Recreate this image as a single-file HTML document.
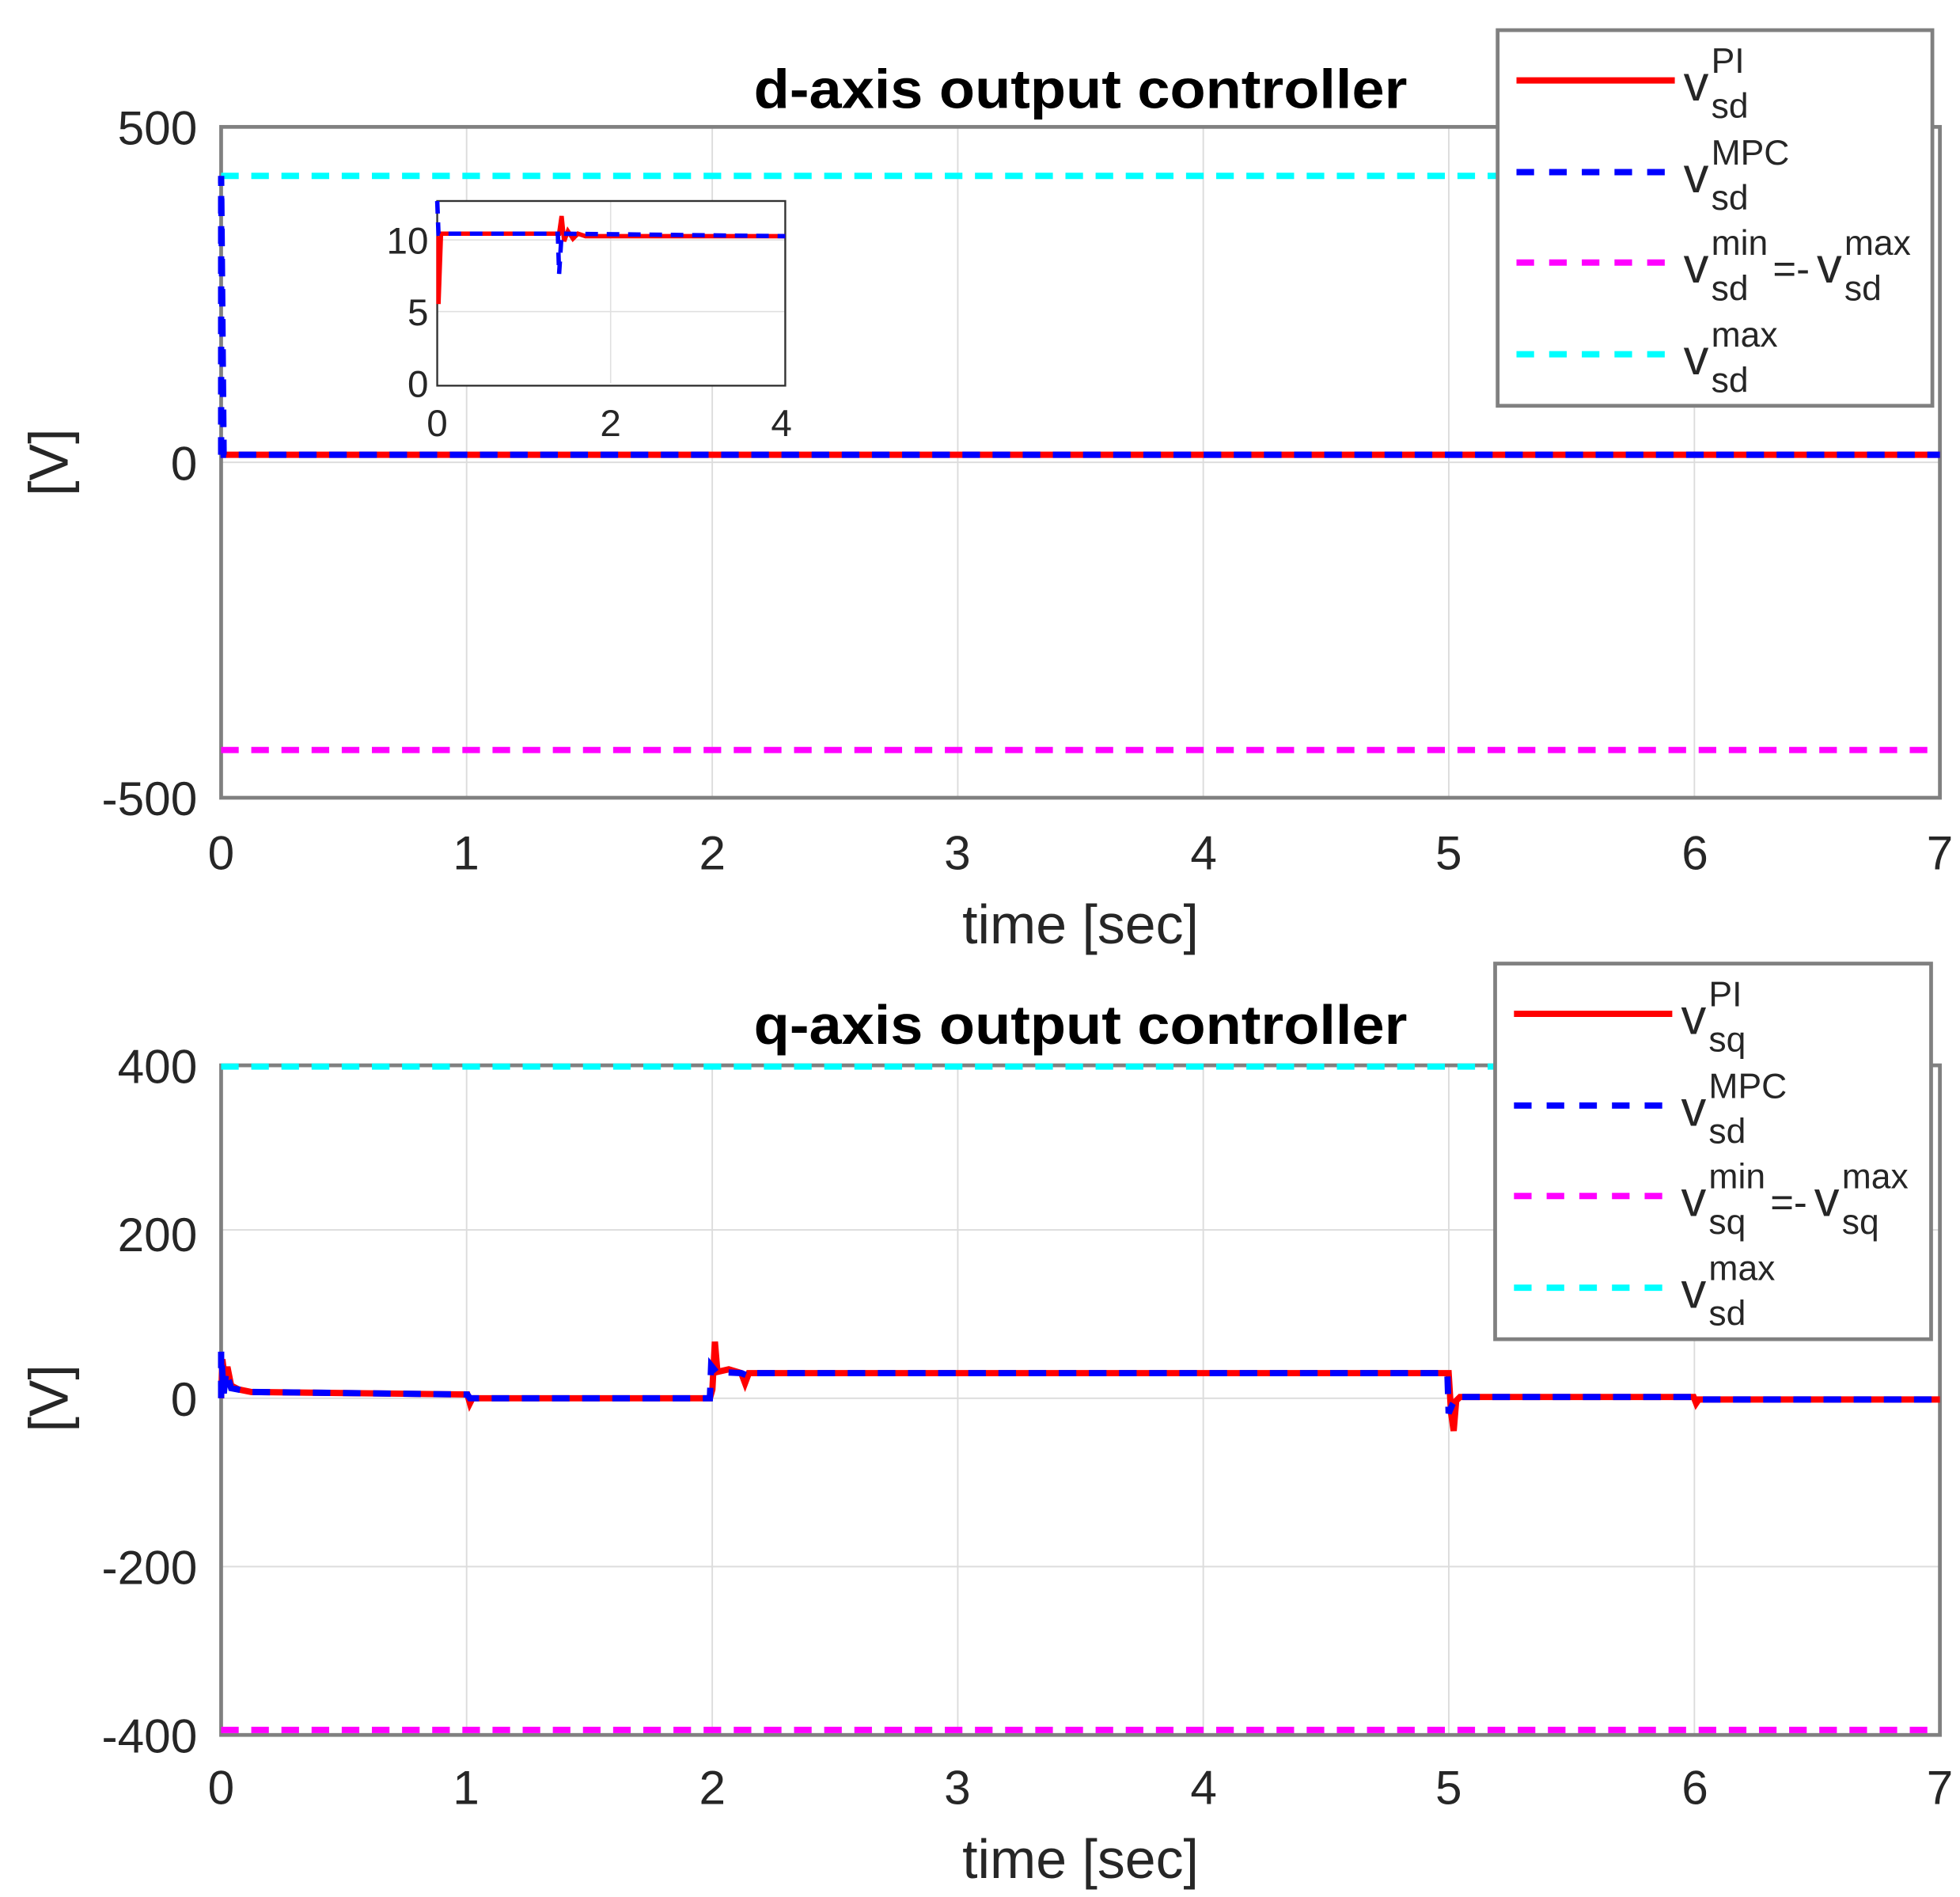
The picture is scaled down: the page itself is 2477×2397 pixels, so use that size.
<!DOCTYPE html>
<html><head><meta charset="utf-8"><style>html,body{margin:0;padding:0;background:#fff}svg{display:block}</style></head>
<body>
<svg width="2477" height="2397" viewBox="0 0 1560 1510" preserveAspectRatio="none" xmlns="http://www.w3.org/2000/svg" font-family="Liberation Sans, sans-serif" fill="#262626">
<rect width="1560" height="1510" fill="#fff"/>
<!-- TOP PLOT -->
<g stroke="#dcdcdc" stroke-width="1.2">
<line x1="371.4" y1="101" x2="371.4" y2="635"/><line x1="566.9" y1="101" x2="566.9" y2="635"/><line x1="762.3" y1="101" x2="762.3" y2="635"/><line x1="957.7" y1="101" x2="957.7" y2="635"/><line x1="1153.1" y1="101" x2="1153.1" y2="635"/><line x1="1348.6" y1="101" x2="1348.6" y2="635"/>
<line x1="176" y1="368" x2="1544" y2="368"/>
</g>
<rect x="176" y="101" width="1368" height="534" fill="none" stroke="#808080" stroke-width="3"/>
<line x1="176" y1="140" x2="1544" y2="140" stroke="#00ffff" stroke-width="5" stroke-dasharray="14,10"/>
<line x1="176" y1="597" x2="1544" y2="597" stroke="#ff00ff" stroke-width="5" stroke-dasharray="14,10"/>
<path d="M176,362 L1544,362" stroke="#ff0000" stroke-width="5" fill="none"/>
<path d="M176,362 L176,140 L178,362 L1544,362" stroke="#0000ff" stroke-width="5" fill="none" stroke-dasharray="14,10"/>
<text x="600" y="86" font-size="44" font-weight="bold" fill="#000" textLength="520" lengthAdjust="spacingAndGlyphs">d-axis output controller</text>
<g font-size="38" text-anchor="end"><text x="157" y="115">500</text><text x="157" y="382">0</text><text x="157" y="649">-500</text></g>
<g font-size="38" text-anchor="middle"><text x="176" y="692">0</text><text x="371" y="692">1</text><text x="567" y="692">2</text><text x="762" y="692">3</text><text x="958" y="692">4</text><text x="1153" y="692">5</text><text x="1349" y="692">6</text><text x="1544" y="692">7</text></g>
<text x="860" y="751" font-size="44" text-anchor="middle">time [sec]</text>
<text transform="translate(54,368) rotate(-90)" font-size="44" text-anchor="middle">[V]</text>
<!-- inset -->
<rect x="348" y="160" width="277" height="147" fill="#fff"/>
<g stroke="#e0e0e0" stroke-width="1"><line x1="486" y1="160" x2="486" y2="305"/><line x1="348" y1="248" x2="625" y2="248"/><line x1="348" y1="191" x2="625" y2="191"/></g>
<rect x="348" y="160" width="277" height="147" fill="none" stroke="#333" stroke-width="1.5"/>
<path d="M349,188 L349,242 L351,186 L445,186 L447,172 L449,192 L452,184 L456,190 L460,186 L466,188 L625,188" stroke="#ff0000" stroke-width="3.5" fill="none"/>
<path d="M348,160 L349,186 L444,186 L445,218 L447,186 L625,188" stroke="#0000ff" stroke-width="3.5" fill="none" stroke-dasharray="10,7"/>
<g font-size="30" text-anchor="end"><text x="341" y="202">10</text><text x="341" y="259">5</text><text x="341" y="316">0</text></g>
<g font-size="30" text-anchor="middle"><text x="348" y="347">0</text><text x="486" y="347">2</text><text x="622" y="347">4</text></g>
<!-- legend top -->
<rect x="1192" y="24" width="346" height="299" fill="#fff" stroke="#808080" stroke-width="3"/>
<line x1="1207" y1="64" x2="1333" y2="64" stroke="#ff0000" stroke-width="5"/>
<line x1="1207" y1="137" x2="1333" y2="137" stroke="#0000ff" stroke-width="5" stroke-dasharray="14,12"/>
<line x1="1207" y1="209" x2="1333" y2="209" stroke="#ff00ff" stroke-width="5" stroke-dasharray="14,12"/>
<line x1="1207" y1="282" x2="1333" y2="282" stroke="#00ffff" stroke-width="5" stroke-dasharray="14,12"/>
<g font-size="28">
<text x="1340" y="80" font-size="40">v</text><text x="1362" y="58">PI</text><text x="1362" y="94">sd</text>
<text x="1340" y="153" font-size="40">v</text><text x="1362" y="131">MPC</text><text x="1362" y="167">sd</text>
<text x="1340" y="225" font-size="40">v</text><text x="1362" y="203">min</text><text x="1362" y="239">sd</text><text x="1411" y="225" font-size="32">=-</text><text x="1446" y="225" font-size="40">v</text><text x="1468" y="203">max</text><text x="1468" y="239">sd</text>
<text x="1340" y="298" font-size="40">v</text><text x="1362" y="276">max</text><text x="1362" y="312">sd</text>
</g>
<!-- BOTTOM PLOT -->
<g stroke="#dcdcdc" stroke-width="1.2">
<line x1="371.4" y1="848" x2="371.4" y2="1381"/><line x1="566.9" y1="848" x2="566.9" y2="1381"/><line x1="762.3" y1="848" x2="762.3" y2="1381"/><line x1="957.7" y1="848" x2="957.7" y2="1381"/><line x1="1153.1" y1="848" x2="1153.1" y2="1381"/><line x1="1348.6" y1="848" x2="1348.6" y2="1381"/>
<line x1="176" y1="979" x2="1544" y2="979"/><line x1="176" y1="1113" x2="1544" y2="1113"/><line x1="176" y1="1247" x2="1544" y2="1247"/>
</g>
<rect x="176" y="848" width="1368" height="533" fill="none" stroke="#808080" stroke-width="3"/>
<line x1="176" y1="849" x2="1544" y2="849" stroke="#00ffff" stroke-width="5" stroke-dasharray="14,10"/>
<line x1="176" y1="1377" x2="1544" y2="1377" stroke="#ff00ff" stroke-width="5" stroke-dasharray="14,10"/>
<path d="M176,1113 L177,1082 L179,1098 L181,1088 L184,1103 L190,1106 L200,1108 L372,1110 L374,1117 L376,1113 L565,1113 L567,1106 L569,1068 L571,1092 L580,1090 L590,1093 L593,1101 L596,1093 L1153,1093 L1155,1125 L1157,1139 L1159,1115 L1162,1112 L1348,1112 L1350,1117 L1352,1114 L1544,1114" stroke="#ff0000" stroke-width="5" fill="none"/>
<path d="M176,1113 L176,1076 L178,1110 L180,1092 L184,1105 L200,1108 L372,1110 L374,1113 L565,1113 L566,1087 L570,1092 L590,1093 L595,1095 L597,1093 L1152,1093 L1153,1125 L1156,1118 L1160,1112 L1348,1112 L1352,1114 L1544,1114" stroke="#0000ff" stroke-width="5" fill="none" stroke-dasharray="14,10"/>
<text x="600" y="831" font-size="44" font-weight="bold" fill="#000" textLength="520" lengthAdjust="spacingAndGlyphs">q-axis output controller</text>
<g font-size="38" text-anchor="end"><text x="157" y="862">400</text><text x="157" y="996">200</text><text x="157" y="1127">0</text><text x="157" y="1261">-200</text><text x="157" y="1395">-400</text></g>
<g font-size="38" text-anchor="middle"><text x="176" y="1436">0</text><text x="371" y="1436">1</text><text x="567" y="1436">2</text><text x="762" y="1436">3</text><text x="958" y="1436">4</text><text x="1153" y="1436">5</text><text x="1349" y="1436">6</text><text x="1544" y="1436">7</text></g>
<text x="860" y="1495" font-size="44" text-anchor="middle">time [sec]</text>
<text transform="translate(54,1113) rotate(-90)" font-size="44" text-anchor="middle">[V]</text>
<!-- legend bottom -->
<rect x="1190" y="767" width="347" height="299" fill="#fff" stroke="#808080" stroke-width="3"/>
<line x1="1205" y1="807" x2="1331" y2="807" stroke="#ff0000" stroke-width="5"/>
<line x1="1205" y1="880" x2="1331" y2="880" stroke="#0000ff" stroke-width="5" stroke-dasharray="14,12"/>
<line x1="1205" y1="952" x2="1331" y2="952" stroke="#ff00ff" stroke-width="5" stroke-dasharray="14,12"/>
<line x1="1205" y1="1025" x2="1331" y2="1025" stroke="#00ffff" stroke-width="5" stroke-dasharray="14,12"/>
<g font-size="28">
<text x="1338" y="823" font-size="40">v</text><text x="1360" y="801">PI</text><text x="1360" y="837">sq</text>
<text x="1338" y="896" font-size="40">v</text><text x="1360" y="874">MPC</text><text x="1360" y="910">sd</text>
<text x="1338" y="968" font-size="40">v</text><text x="1360" y="946">min</text><text x="1360" y="982">sq</text><text x="1409" y="968" font-size="32">=-</text><text x="1444" y="968" font-size="40">v</text><text x="1466" y="946">max</text><text x="1466" y="982">sq</text>
<text x="1338" y="1041" font-size="40">v</text><text x="1360" y="1019">max</text><text x="1360" y="1055">sd</text>
</g>
</svg>
</body></html>
